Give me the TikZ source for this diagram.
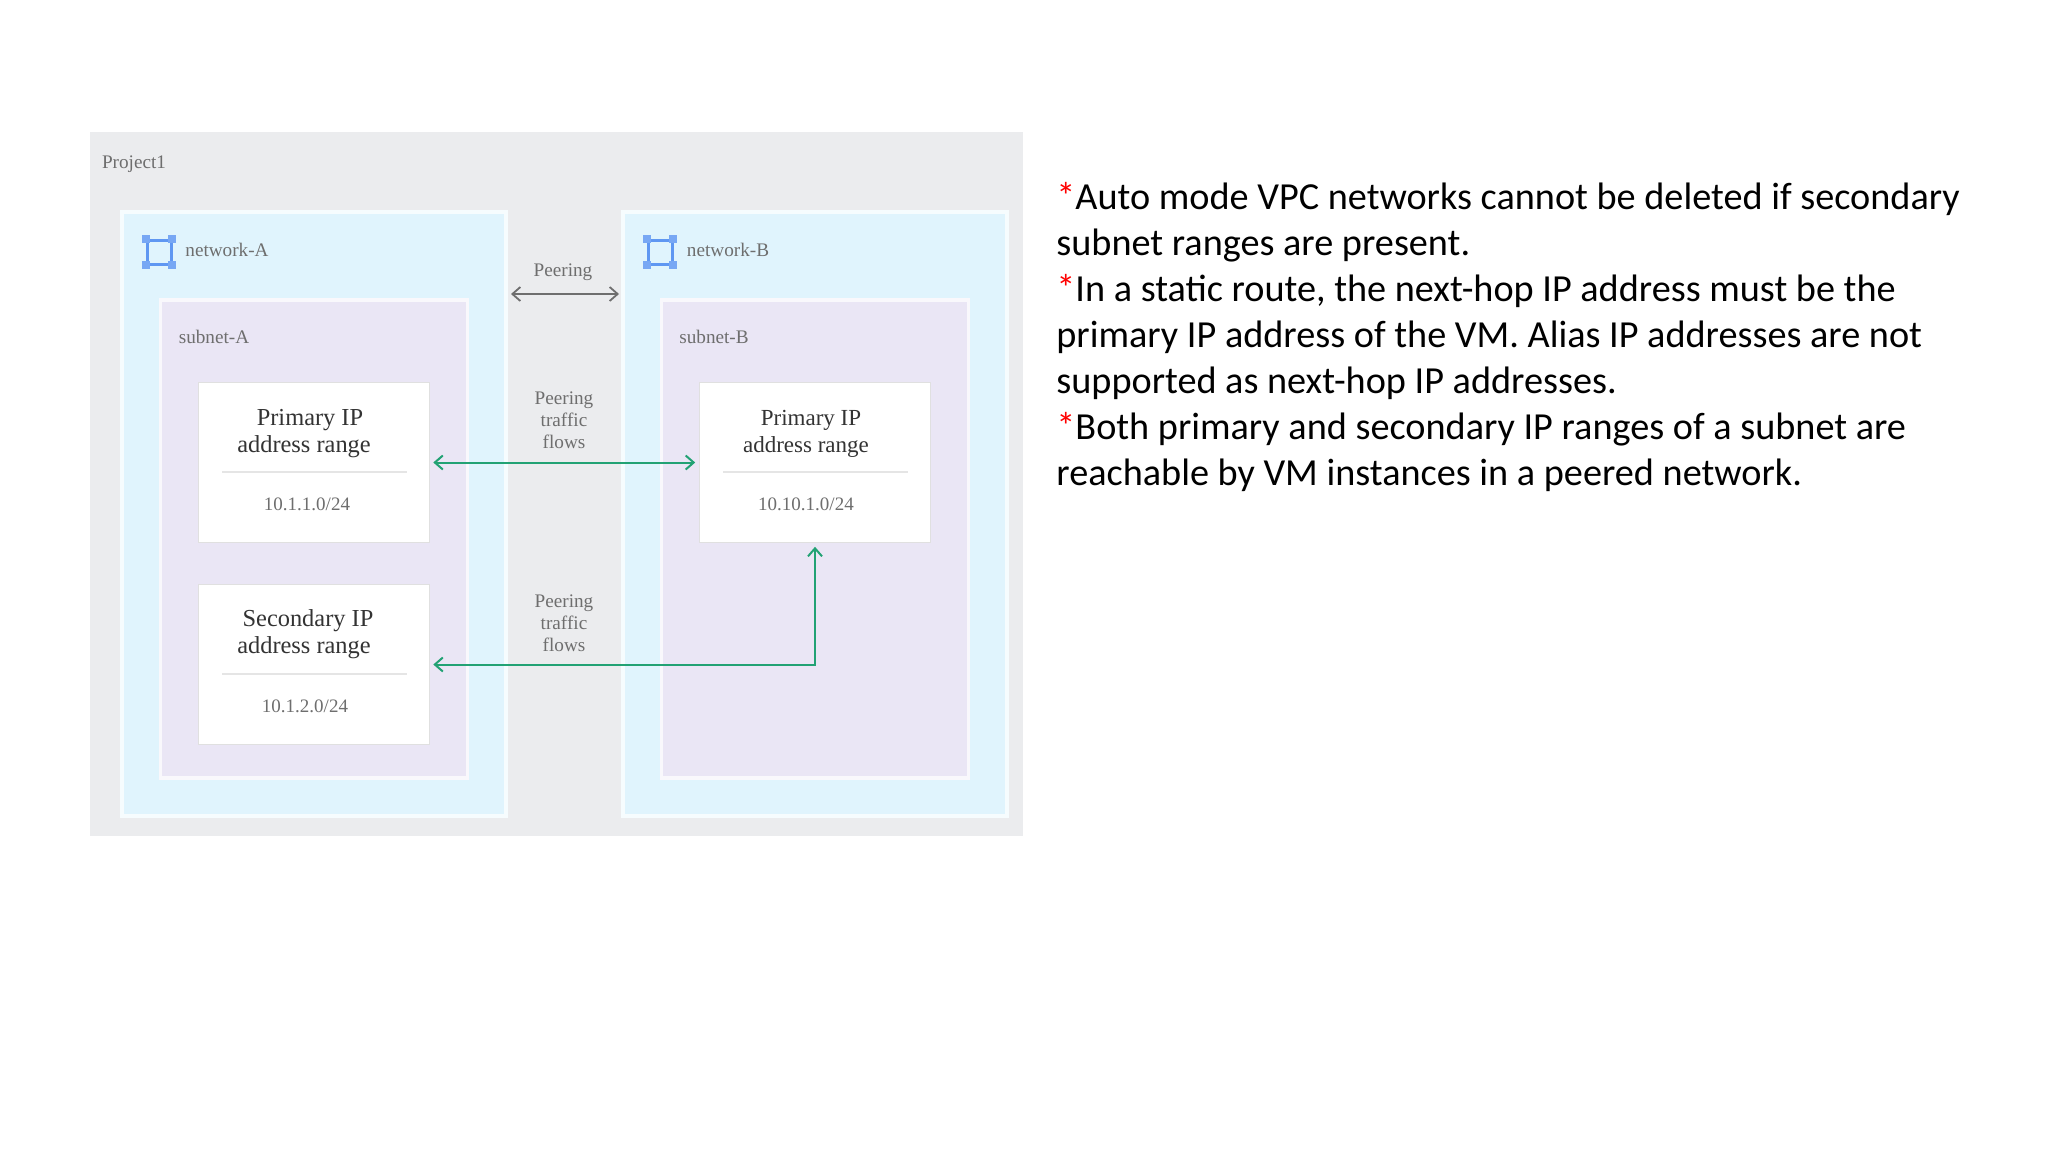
\documentclass[tikz,border=0pt]{standalone}
\usepackage{fontspec}
\setmainfont{Liberation Serif}
\newfontfamily\notefont{Carlito}
\usetikzlibrary{
	positioning,
	arrows.meta
}
\definecolor{projectgray}{HTML}{EBECEE}
\definecolor{netblue}{HTML}{E0F4FD}
\definecolor{subnetlilac}{HTML}{EAE6F5}
\definecolor{flowgreen}{HTML}{22A274}
\definecolor{iconblue}{HTML}{5F97F2}
\definecolor{labelgray}{HTML}{6E6E6E}
\tikzset{
	netbox/.style={draw=white!70!netblue,line width=1.6pt,fill=netblue,inner sep=0,minimum width=192pt,minimum height=302pt},
	subnetbox/.style={draw=white!70!subnetlilac,line width=1.6pt,fill=subnetlilac,inner sep=0,minimum width=153.5pt,minimum height=239pt},
	rangebox/.style={draw=black!12,line width=0.3pt,fill=white,inner sep=0,minimum width=115.5pt,minimum height=80pt},
	lbl/.style={text=labelgray,font=\fontsize{9.6}{11}\selectfont,inner sep=0,align=center},
	iplbl/.style={lbl,font=\fontsize{9.5}{11}\selectfont},
	rangetitle/.style={text=black!80,font=\fontsize{12.2}{13.6}\selectfont,inner sep=0,align=center},
	flow/.style={draw=flowgreen,line width=1pt,{Straight Barb[length=4pt,width=7pt]}-{Straight Barb[length=4pt,width=7pt]}},
	netpeer/.style={draw=labelgray,line width=0.9pt,{Straight Barb[length=4pt,width=7pt]}-{Straight Barb[length=4pt,width=7pt]}},
	divider/.style={draw=black!10,line width=0.8pt},
	neticon/.pic={
		\foreach \sx/\sy in {-1/-1,1/-1,-1/1,1/1}
			\fill[iconblue!85] (\sx*17,\sy*17) rectangle (\sx*9,\sy*9);
		\draw[iconblue,line width=1.5pt] (-9,-12) -- (9,-12) (-9,12) -- (9,12) (-12,-9) -- (-12,9) (12,-9) -- (12,9);
	}
}
\begin{document}
\begin{tikzpicture}[x=0.5pt,y=-0.5pt]
			
			\useasboundingbox (0,0) rectangle (2048,1152);
			
			\node[fill=projectgray,inner sep=0,minimum width=466.5pt,minimum height=352pt] (project) at (556,484) {};
			\node[lbl] (projectlbl) at (134,164) {Project1};
			
			\node[netbox] (netA) at (314,514) {};
			\node[netbox] (netB) at (815,514) {};
			\node[subnetbox] (subA) at (314,539) {};
			\node[subnetbox] (subB) at (815,539) {};
			
			\pic at (159,252) {neticon};
			\pic at (660,252) {neticon};
			\node[lbl] (netAlbl) at (227,250) {network-A};
			\node[lbl] (netBlbl) at (728,250) {network-B};
			\node[lbl] (subAlbl) at (214,337) {subnet-A};
			\node[lbl] (subBlbl) at (714,337) {subnet-B};
			
			\node[rangebox] (primA) at (313.5,462.5) {};
			\node[rangebox] (secA) at (313.5,664.5) {};
			\node[rangebox] (primB) at (815,462.5) {};
			
			\node[rangetitle] (primAtitle) at (304,433.5) {\hspace{6pt}Primary IP\\address range};
			\node[rangetitle] (secAtitle) at (304,634.5) {\hspace{4pt}Secondary IP\\address range};
			\node[rangetitle,font=\fontsize{11.5}{13.6}\selectfont] (primBtitle) at (806,433.5) {\hspace{5pt}Primary IP\\address range};
			
			\draw[divider] (222,472) -- (407,472);
			\draw[divider] (222,674) -- (407,674);
			\draw[divider] (723,472) -- (908,472);
			
			\node[iplbl] (primAip) at (307,504) {10.1.1.0/24};
			\node[iplbl] (secAip) at (305,706) {10.1.2.0/24};
			\node[iplbl] (primBip) at (806,504) {10.10.1.0/24};
			
			\node[lbl] (peerlbl) at (563,272) {Peering};
			\node[lbl] (flowtop) at (564,420) {Peering\\traffic\\flows};
			\node[lbl] (flowbot) at (564,623) {Peering\\traffic\\flows};
			
			\coordinate (peerL) at (511,294);
			\coordinate (peerR) at (619,294);
			\draw[netpeer] (peerL) -- (peerR);
			
			\draw[flow] ([xshift=2pt]primA.east) -- ([xshift=-2pt]primB.west);
			\draw[flow] ([xshift=2pt]secA.east) -| ([yshift=-2pt]primB.south);
			
			\node[inner sep=0,anchor=north west,align=left,font=\notefont\fontsize{19.12}{23}\selectfont] (notes) at (1056,182) {%
				\textcolor{red}{*}Auto mode VPC networks cannot be deleted if secondary\\
				subnet ranges are present.\\
				\textcolor{red}{*}In a static route, the next-hop IP address must be the\\
				primary IP address of the VM. Alias IP addresses are not\\
				supported as next-hop IP addresses.\\
				\textcolor{red}{*}Both primary and secondary IP ranges of a subnet are\\
				reachable by VM instances in a peered network.};
			
		\end{tikzpicture}
\end{document}
